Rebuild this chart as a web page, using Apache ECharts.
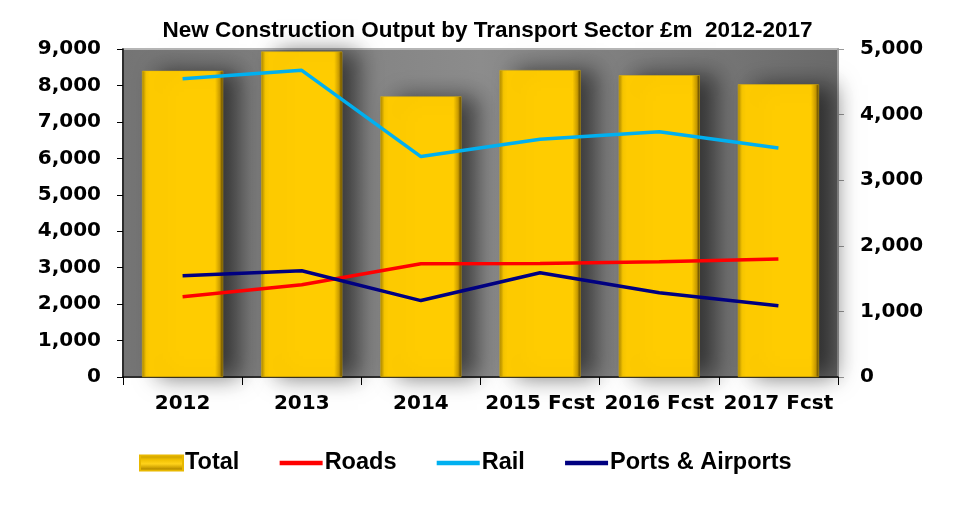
<!DOCTYPE html>
<html>
<head>
<meta charset="utf-8">
<script src="https://cdn.jsdelivr.net/npm/echarts@6/dist/echarts.min.js"></script>
<style>
  html, body { margin: 0; padding: 0; background: #fff; }
  #chart { width: 975px; height: 511px; }
</style>
</head>
<body>
<div id="chart"></div>
<script>
const years = ['2012', '2013', '2014', '2015 Fcst', '2016 Fcst', '2017 Fcst']
const total = [8400, 8930, 7700, 8420, 8280, 8030]
const roads = [1225, 1405, 1725, 1730, 1755, 1800]
const rail = [4545, 4675, 3360, 3625, 3740, 3490]
const ports = [1545, 1620, 1165, 1590, 1285, 1085]

const axisFont = {
  fontFamily: 'DejaVu Sans',
  fontWeight: 'bold',
  fontSize: 20,
  color: '#000'
}

const lineSeries = (name, data, color) => ({
  name: name,
  type: 'line',
  yAxisIndex: 1,
  data: data,
  symbol: 'none',
  smooth: false,
  z: 5,
  lineStyle: { color: color, width: 3.5 },
  itemStyle: { color: color }
})

// line legend entries: hide the marker ECharts adds to line icons
const lineLegend = name => ({
  name: name,
  itemStyle: { opacity: 0 },
  lineStyle: { width: 4.5 }
})

const chart = echarts.init(document.getElementById('chart'))

const option = {
  animation: false,
  backgroundColor: '#fff',
  title: {
    text: 'New Construction Output by Transport Sector £m  2012-2017',
    left: 'center',
    top: 14,
    textStyle: {
      fontFamily: 'Liberation Sans',
      fontWeight: 'bold',
      fontSize: 22.5,
      color: '#000'
    }
  },
  legend: {
    left: 134,
    top: 446,
    itemWidth: 43,
    itemHeight: 15,
    itemGap: 38,
    textStyle: {
      fontFamily: 'Liberation Sans',
      fontWeight: 'bold',
      fontSize: 23.5,
      color: '#000',
      padding: [0, 0, 0, -3]
    },
    data: [
      {
        name: 'Total',
        icon: 'rect',
        itemStyle: {
          color: new echarts.graphic.LinearGradient(0, 0, 0, 1, [
            { offset: 0, color: '#b89000' },
            { offset: 0.3, color: '#f0c000' },
            { offset: 0.55, color: '#ffd21a' },
            { offset: 0.8, color: '#c99c00' },
            { offset: 1, color: '#7a5c00' }
          ])
        }
      },
      lineLegend('Roads'),
      lineLegend('Rail'),
      lineLegend('Ports & Airports')
    ]
  },
  grid: {
    left: 123,
    right: 137,
    top: 49,
    bottom: 134,
    show: true,
    borderColor: '#b5b5b5',
    borderWidth: 2,
    backgroundColor: new echarts.graphic.LinearGradient(0, 0, 1, 0, [
      { offset: 0, color: '#747474' },
      { offset: 0.5, color: '#8c8c8c' },
      { offset: 1, color: '#6a6a6a' }
    ])
  },
  xAxis: {
    type: 'category',
    data: years,
    axisLine: { lineStyle: { color: '#000', width: 1.5 } },
    axisTick: { show: true, length: 8, lineStyle: { color: '#000' } },
    axisLabel: Object.assign({ interval: 0, margin: 17 }, axisFont)
  },
  yAxis: [
    {
      type: 'value',
      min: 0,
      max: 9000,
      interval: 1000,
      axisLine: { show: true, lineStyle: { color: '#000', width: 1.5 } },
      axisTick: { show: true, length: 6, lineStyle: { color: '#000' } },
      splitLine: { show: false },
      axisLabel: Object.assign({ margin: 22 }, axisFont)
    },
    {
      type: 'value',
      min: 0,
      max: 5000,
      interval: 1000,
      axisLine: { show: true, lineStyle: { color: '#999', width: 1.5 } },
      axisTick: { show: true, length: 6, lineStyle: { color: '#999' } },
      splitLine: { show: false },
      axisLabel: Object.assign({ margin: 22 }, axisFont)
    }
  ],
  series: [
    {
      name: 'Total',
      type: 'bar',
      data: total,
      barWidth: '68%',
      z: 2,
      itemStyle: {
        color: new echarts.graphic.LinearGradient(0, 0, 1, 0, [
          { offset: 0, color: '#a88400' },
          { offset: 0.05, color: '#f5c400' },
          { offset: 0.1, color: '#ffcc00' },
          { offset: 0.9, color: '#ffcc00' },
          { offset: 0.96, color: '#c89a00' },
          { offset: 1, color: '#4a3800' }
        ]),
        borderColor: '#e8b800',
        borderWidth: 0.5,
        shadowColor: 'rgba(0, 0, 0, 0.55)',
        shadowBlur: 22,
        shadowOffsetX: 16,
        shadowOffsetY: 0
      }
    },
    lineSeries('Roads', roads, '#ff0000'),
    lineSeries('Rail', rail, '#00b0f0'),
    lineSeries('Ports & Airports', ports, '#000080')
  ]
}

chart.setOption(option)
</script>
</body>
</html>
